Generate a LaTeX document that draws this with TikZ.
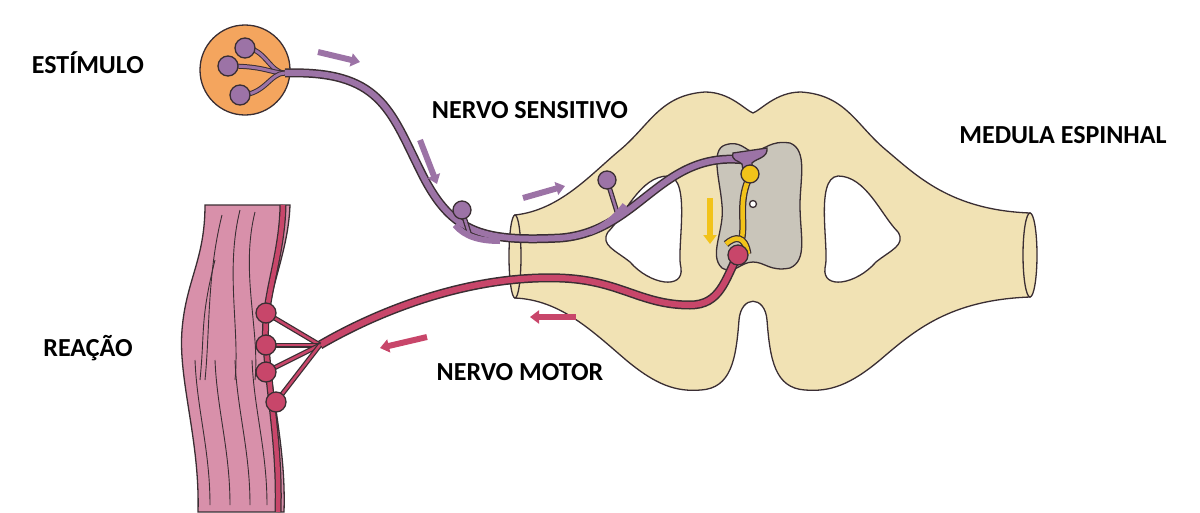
\documentclass[tikz,border=0pt]{standalone}
\usepackage{fontspec}
\setmainfont{Carlito}
\usetikzlibrary{arrows.meta}
\definecolor{cord}{HTML}{F1E2B4}
\definecolor{gray1}{HTML}{C9C5BA}
\definecolor{purp}{HTML}{9C73A6}
\definecolor{redn}{HTML}{C8466A}
\definecolor{yel}{HTML}{F2C31A}
\definecolor{musc}{HTML}{D890AA}
\definecolor{orng}{HTML}{F4A55E}
\definecolor{ol}{HTML}{3A2E33}
\begin{document}
\begin{tikzpicture}[x=1pt,y=-1pt,
 lab/.style={font=\bfseries\fontsize{26}{28}\selectfont,text=black},
 edge/.style={draw=ol,line width=1.3pt},
 blk/.style={-{Triangle[length=9pt,width=13pt]},line width=6pt}]
\useasboundingbox (0,0) rectangle (1200,512);
% spinal cord
\path[edge,fill=cord] (515,215) .. controls (560,210) and (590,175) .. (620,150)
 .. controls (650,125) and (660,95) .. (705,92) .. controls (730,92) and (745,110) .. (753,113)
 .. controls (761,110) and (776,92) .. (801,92) .. controls (846,95) and (856,125) .. (886,150)
 .. controls (916,175) and (950,210) .. (1030,213) -- (1030,297)
 .. controls (950,300) and (915,330) .. (880,360) .. controls (850,385) and (830,392) .. (805,390)
 .. controls (775,388) and (770,360) .. (767,320) .. controls (765,295) and (741,295) .. (739,320)
 .. controls (736,360) and (731,388) .. (701,390) .. controls (676,392) and (656,385) .. (626,360)
 .. controls (591,330) and (560,300) .. (515,298) -- cycle;
\draw[edge,fill=cord] (515,256.5) ellipse (6 and 41.5);
\draw[edge,fill=cord] (1030,255) ellipse (7 and 42);
% gray matter
\path[edge,fill=gray1] (725,145) .. controls (740,140) and (745,150) .. (753,152) .. controls (765,150) and (770,140) .. (790,143)
 .. controls (808,150) and (800,180) .. (800,205) .. controls (800,235) and (808,260) .. (790,268)
 .. controls (770,272) and (765,262) .. (753,262) .. controls (740,262) and (735,275) .. (722,268)
 .. controls (708,255) and (725,230) .. (722,205) .. controls (720,180) and (710,150) .. (725,145) -- cycle;
\draw[edge,fill=white] (753,204) circle (3.5);
% holes
\path[edge,fill=white] (668,176) .. controls (692,178) and (676,250) .. (681,268)
 .. controls (684,290) and (650,285) .. (630,262) .. controls (615,250) and (600,245) .. (608,232)
 .. controls (625,215) and (640,176) .. (668,176) -- cycle;
\path[edge,fill=white] (838,176) .. controls (814,178) and (830,250) .. (825,268)
 .. controls (822,290) and (856,285) .. (876,262) .. controls (891,250) and (906,245) .. (898,232)
 .. controls (881,215) and (866,176) .. (838,176) -- cycle;
% muscle
\path[edge,fill=musc] (205,205) -- (290,205) .. controls (288,260) and (262,300) .. (268,345)
 .. controls (272,400) and (286,450) .. (284,512) -- (198,512) .. controls (200,440) and (178,380) .. (182,330)
 .. controls (186,280) and (205,260) .. (205,205) -- cycle;
\foreach \a/\b/\c in {222/215/200, 240/210/230, 255/212/250, 215/260/195}
 \draw[ol,line width=0.9pt] (\a,\b) .. controls (\a-15,\b+60) and (\c+10,330) .. (\c+5,380);
\foreach \a in {205,225,245,262}
 \draw[ol,line width=0.9pt] (\a-10,360) .. controls (\a-8,410) and (\a+5,450) .. (\a+5,505);
% red motor nerve along muscle
\draw[ol,line width=7pt] (283,205) .. controls (282,260) and (262,300) .. (266,345) .. controls (270,400) and (280,450) .. (278,512);
\draw[redn,line width=4.5pt] (283,205) .. controls (282,260) and (262,300) .. (266,345) .. controls (270,400) and (280,450) .. (278,512);
% stimulus
\draw[edge,fill=orng] (245,70) circle (45);
\coordinate (stimJ) at (285,73);
\foreach \x/\y in {245/48,228/66,240/95}{
 \draw[ol,line width=5pt] (\x,\y) .. controls (265,\y) and (270,73) .. (stimJ);
 \draw[purp,line width=3pt] (\x,\y) .. controls (265,\y) and (270,73) .. (stimJ);}
% sensory nerve
\def\spath{(stimJ) .. controls (380,70) and (390,110) .. (420,170) .. controls (450,232) and (480,242) .. (560,238) .. controls (640,232) and (660,150) .. (745,160)}
\draw[ol,line width=9pt] \spath; \draw[purp,line width=6pt] \spath;
\foreach \x/\y/\ex/\ey in {462/210/470/236, 607/180/617/212}{
 \draw[ol,line width=5pt] (\x,\y) -- (\ex,\ey); \draw[purp,line width=2.5pt] (\x,\y) -- (\ex,\ey);
 \draw[edge,fill=purp] (\x,\y) circle (9);}
\draw[purp,line width=6pt] (455,225) .. controls (465,237) and (480,241) .. (500,241);
\draw[purp,line width=6pt] (590,232) .. controls (605,226) and (615,218) .. (625,205);
\foreach \x/\y in {245/48,228/66,240/95} \draw[edge,fill=purp] (\x,\y) circle (10);
% synapse T
\path[edge,fill=purp] (733,153) -- (767,148) .. controls (768,158) and (757,158) .. (752,163) -- (753,182) -- (745,182) -- (742,164) .. controls (738,160) and (731,161) .. (733,153) -- cycle;
% interneuron
\def\ipath{(750,176) .. controls (738,200) and (745,220) .. (742,238)}
\draw[ol,line width=7pt] \ipath; \draw[yel,line width=4.5pt] \ipath;
\draw[ol,line width=7pt] (726,244) .. controls (735,236) and (745,235) .. (748,254);
\draw[yel,line width=4.5pt] (726,244) .. controls (735,236) and (745,235) .. (748,254);
\draw[edge,fill=yel] (750,174) circle (9);
% motor nerve
\def\mpath{(738,255) .. controls (725,280) and (720,305) .. (690,305) .. controls (640,305) and (620,280) .. (560,278) .. controls (470,275) and (380,310) .. (320,345)}
\draw[ol,line width=9pt] \mpath; \draw[redn,line width=6pt] \mpath;
\foreach \y/\x in {313/266,345/266,372/266,402/276}{
 \draw[ol,line width=5pt] (320,345) -- (\x,\y); \draw[redn,line width=2.5pt] (320,345) -- (\x,\y);}
\foreach \y/\x in {313/266,345/266,372/266,402/276} \draw[edge,fill=redn] (\x,\y) circle (10);
\draw[edge,fill=redn] (738,255) circle (10);
% direction arrows
\draw[blk,purp] (318,52) -- (360,62);
\draw[blk,purp] (420,140) -- (437,184);
\draw[blk,purp] (523,198) -- (565,186);
\draw[blk,yel] (710,198) -- (710,244);
\draw[blk,redn] (576,317) -- (530,317);
\draw[blk,redn] (427,337) -- (380,348);
% labels
\node[lab] (l1) at (88,63) {ESTÍMULO};
\node[lab] (l2) at (530,110) {NERVO SENSITIVO};
\node[lab] (l3) at (1063,135) {MEDULA ESPINHAL};
\node[lab] (l4) at (88,348) {REAÇÃO};
\node[lab] (l5) at (520,372) {NERVO MOTOR};
\end{tikzpicture}
\end{document}
